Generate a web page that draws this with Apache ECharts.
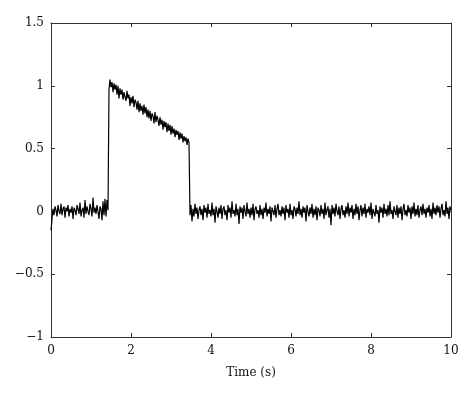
<!DOCTYPE html>
<html>
<head>
<meta charset="utf-8">
<script src="https://cdn.jsdelivr.net/npm/echarts@6/dist/echarts.min.js"></script>
<style>
    html, body { margin: 0; padding: 0; background: #fff; }
    #chart { width: 474px; height: 398px; }
</style>
</head>
<body>
<div id="chart"></div>
<script>
// sample spacing of the recorded signal (s)
const dt = 0.025;

// baseline before the step, t = 0 .. 1.425 s
const preStep = [
    -0.15, -0.06, 0.02, -0.03, 0.04, 0.01, -0.04, 0.05, 0.00, -0.02,
    0.06, -0.03, 0.02, 0.04, -0.05, 0.03, 0.00, 0.05, -0.04, 0.02,
    -0.01, 0.04, -0.06, 0.03, 0.01, -0.03, 0.05, 0.02, -0.02, 0.07,
    -0.04, 0.01, 0.03, -0.05, 0.09, -0.02, 0.04, 0.00, -0.03, 0.06,
    0.02, -0.04, 0.11, -0.01, 0.03, -0.02, 0.05, 0.00, -0.06, 0.04,
    0.02, -0.07, 0.08, -0.03, 0.10, -0.04, 0.09, 0.01
];

// decaying pulse, t = 1.45 .. 3.45 s
const pulse = [
    0.97, 1.05, 0.99, 1.03, 0.95, 1.02, 0.97, 1.01, 0.93, 1.00,
    0.90, 0.98, 0.93, 0.97, 0.89, 0.95, 0.91, 0.88, 0.96, 0.90,
    0.93, 0.84, 0.91, 0.86, 0.92, 0.83, 0.89, 0.87, 0.81, 0.88,
    0.79, 0.86, 0.80, 0.84, 0.77, 0.85, 0.78, 0.83, 0.75, 0.81,
    0.74, 0.80, 0.72, 0.78, 0.76, 0.70, 0.79, 0.71, 0.76, 0.73,
    0.68, 0.75, 0.69, 0.73, 0.65, 0.72, 0.67, 0.71, 0.63, 0.70,
    0.64, 0.69, 0.61, 0.68, 0.62, 0.66, 0.59, 0.65, 0.61, 0.64,
    0.57, 0.63, 0.58, 0.62, 0.55, 0.60, 0.56, 0.59, 0.53, 0.58,
    0.55
];

// baseline after the pulse, t = 3.475 .. 10 s
const postStep = [
    -0.03, 0.05, -0.08, 0.02, -0.04, 0.06, -0.02, 0.03, -0.06, 0.01,
    0.04, -0.03, 0.02, -0.07, 0.05, -0.01, 0.03, -0.05, 0.06, -0.02,
    0.01, -0.04, 0.07, -0.03, 0.02, -0.09, 0.04, 0.00, -0.05, 0.03,
    -0.02, 0.05, -0.06, 0.02, 0.04, -0.03, 0.01, -0.07, 0.05, -0.01,
    0.03, -0.05, 0.08, -0.02, 0.01, -0.04, 0.06, -0.03, 0.02, -0.10,
    0.04, -0.01, 0.03, -0.06, 0.05, 0.00, -0.04, 0.07, -0.02, 0.02,
    -0.05, 0.03, -0.03, 0.06, -0.07, 0.02, 0.04, -0.02, 0.01, -0.05,
    0.05, -0.03, 0.02, -0.06, 0.03, -0.01, 0.07, -0.04, 0.02, -0.02,
    0.04, -0.08, 0.03, 0.00, -0.03, 0.05, -0.05, 0.02, 0.06, -0.03,
    0.01, -0.04, 0.04, -0.02, 0.03, -0.07, 0.05, -0.01, 0.02, -0.05,
    0.06, -0.03, 0.01, -0.06, 0.04, 0.02, -0.04, 0.03, -0.02, 0.08,
    -0.03, 0.02, -0.05, 0.04, -0.01, 0.03, -0.08, 0.05, 0.00, -0.04,
    0.03, -0.02, 0.06, -0.05, 0.02, -0.03, 0.04, -0.07, 0.03, 0.01,
    -0.04, 0.05, -0.02, 0.02, -0.06, 0.07, -0.03, 0.01, 0.04, -0.05,
    0.02, -0.11, 0.05, -0.02, 0.03, -0.04, 0.06, 0.00, -0.03, 0.04,
    -0.06, 0.02, 0.05, -0.03, 0.01, -0.05, 0.04, -0.02, 0.07, -0.04,
    0.03, -0.01, 0.05, -0.06, 0.02, -0.03, 0.06, -0.02, 0.04, -0.07,
    0.01, 0.05, -0.04, 0.03, -0.02, 0.06, -0.05, 0.02, -0.01, 0.04,
    -0.03, 0.07, -0.06, 0.02, 0.03, -0.04, 0.05, -0.02, 0.01, -0.09,
    0.04, -0.01, 0.03, -0.05, 0.06, -0.02, 0.02, -0.04, 0.05, -0.03,
    0.08, -0.02, 0.01, -0.06, 0.04, 0.00, -0.03, 0.05, -0.05, 0.03,
    -0.02, 0.04, -0.07, 0.02, 0.06, -0.03, 0.01, -0.04, 0.05, -0.01,
    0.03, -0.06, 0.04, -0.02, 0.07, -0.04, 0.02, -0.03, 0.05, -0.05,
    0.01, 0.04, -0.03, 0.06, -0.02, 0.02, -0.05, 0.03, -0.01, 0.05,
    -0.04, 0.02, -0.06, 0.07, -0.02, 0.03, -0.03, 0.05, -0.01, 0.04,
    -0.05, 0.02, 0.06, -0.03, 0.01, -0.04, 0.08, -0.02, 0.03, -0.06,
    0.04, 0.01
];

const xTicks = { min: 0, max: 10, interval: 2 };
const yTicks = { min: -1, max: 1.5, interval: 0.5 };

const signal = preStep.concat(pulse, postStep).map((v, i) => [+(i * dt).toFixed(3), v]);

const fontFamily = 'DejaVu Serif';
const frameColor = '#333';
const minus = (v) => String(v).replace('-', '\u2212');

const chart = echarts.init(document.getElementById('chart'), null, { renderer: 'canvas' });

const axisBase = {
    type: 'value',
    axisLine: { show: true, onZero: false, lineStyle: { color: frameColor, width: 1 } },
    axisTick: { show: true, inside: true, length: 4, lineStyle: { color: frameColor } },
    splitLine: { show: false }
};

chart.setOption({
    animation: false,
    backgroundColor: '#fff',
    grid: { left: 51, right: 23, top: 23, bottom: 61 },
    xAxis: [
        Object.assign({}, axisBase, xTicks, {
            position: 'bottom',
            name: 'Time (s)',
            nameLocation: 'middle',
            nameGap: 30,
            nameTextStyle: { fontFamily, fontSize: 12, color: '#111' },
            axisLabel: { fontFamily, fontSize: 12, color: '#111', margin: 8, formatter: minus }
        }),
        Object.assign({}, axisBase, xTicks, {
            position: 'top',
            axisLabel: { show: false }
        })
    ],
    yAxis: [
        Object.assign({}, axisBase, yTicks, {
            position: 'left',
            axisLabel: { fontFamily, fontSize: 12, color: '#111', margin: 7, formatter: minus }
        }),
        Object.assign({}, axisBase, yTicks, {
            position: 'right',
            axisLabel: { show: false }
        })
    ],
    series: [{
        type: 'line',
        data: signal,
        xAxisIndex: 0,
        yAxisIndex: 0,
        showSymbol: false,
        symbol: 'none',
        lineStyle: { color: '#000', width: 1.2 }
    }]
});
</script>
</body>
</html>
